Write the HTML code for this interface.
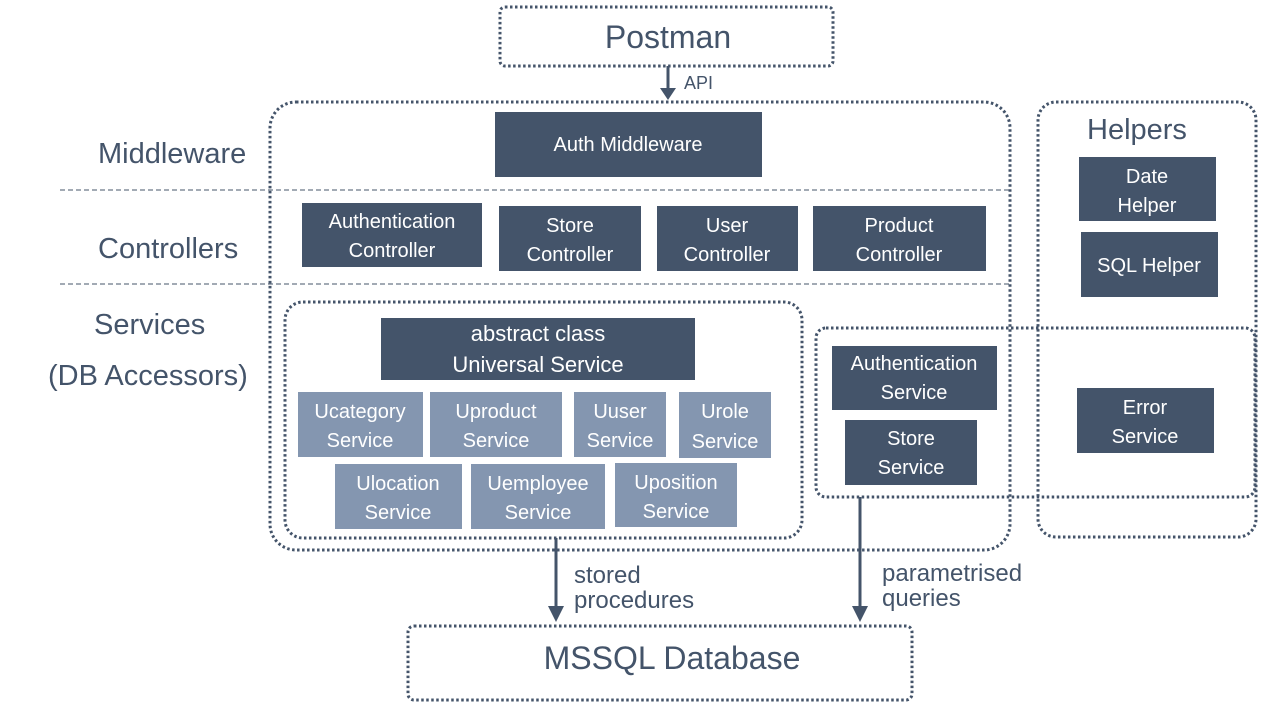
<!DOCTYPE html>
<html><head><style>body{margin:0;background:#fff}svg{display:block}</style></head><body>
<svg width="1280" height="720" xmlns="http://www.w3.org/2000/svg" font-family="'Liberation Sans',sans-serif">
<rect width="1280" height="720" fill="#fff"/>
<g fill="none" stroke="#44546a" stroke-width="3" stroke-dasharray="2.5 2.5">
<rect x="500" y="7" width="333" height="59" rx="5"/>
<rect x="270" y="102" width="740" height="448" rx="26"/>
<rect x="1038" y="102" width="218" height="435" rx="18"/>
<rect x="285" y="302" width="517" height="236" rx="18"/>
<rect x="816" y="328" width="439" height="169" rx="10"/>
<rect x="408" y="626" width="504" height="74" rx="6"/>
</g>
<g stroke="#44546a" stroke-width="1" stroke-dasharray="5 3">
<line x1="60" y1="190" x2="1010" y2="190"/>
<line x1="60" y1="284" x2="1010" y2="284"/>
</g>
<g stroke="#44546a" stroke-width="3" fill="#44546a">
<line x1="668" y1="66" x2="668" y2="92"/>
<line x1="556" y1="538" x2="556" y2="610"/>
<line x1="860" y1="497" x2="860" y2="610"/>
</g>
<g fill="#44546a">
<polygon points="660,88 676,88 668,100"/>
<polygon points="548,606 564,606 556,622"/>
<polygon points="852,606 868,606 860,622"/>
</g>
<g fill="#44546a">
<rect x="495" y="112" width="267" height="65"/>
<rect x="302" y="203" width="180" height="64"/>
<rect x="499" y="206" width="142" height="65"/>
<rect x="657" y="206" width="141" height="65"/>
<rect x="813" y="206" width="173" height="65"/>
<rect x="381" y="318" width="314" height="62"/>
<rect x="832" y="346" width="165" height="64"/>
<rect x="845" y="420" width="132" height="65"/>
<rect x="1077" y="388" width="137" height="65"/>
<rect x="1079" y="157" width="137" height="64"/>
<rect x="1081" y="232" width="137" height="65"/>
</g>
<g fill="#8496b0">
<rect x="298" y="392" width="125" height="65"/>
<rect x="430" y="392" width="132" height="65"/>
<rect x="574" y="392" width="92" height="65"/>
<rect x="679" y="392" width="92" height="66"/>
<rect x="335" y="464" width="127" height="65"/>
<rect x="471" y="464" width="134" height="65"/>
<rect x="615" y="463" width="122" height="64"/>
</g>
<g fill="#fff" font-size="20" text-anchor="middle">
<text x="628" y="151">Auth Middleware</text>
<text x="392" y="228">Authentication</text><text x="392" y="257">Controller</text>
<text x="570" y="232">Store</text><text x="570" y="261">Controller</text>
<text x="727" y="232">User</text><text x="727" y="261">Controller</text>
<text x="899" y="232">Product</text><text x="899" y="261">Controller</text>
<text x="538" y="341" font-size="22">abstract class</text><text x="538" y="372" font-size="22">Universal Service</text>
<text x="914" y="370">Authentication</text><text x="914" y="399">Service</text>
<text x="911" y="445">Store</text><text x="911" y="474">Service</text>
<text x="1145" y="414">Error</text><text x="1145" y="443">Service</text>
<text x="1147" y="183">Date</text><text x="1147" y="212">Helper</text>
<text x="1149" y="272">SQL Helper</text>
<text x="360" y="418">Ucategory</text><text x="360" y="447">Service</text>
<text x="496" y="418">Uproduct</text><text x="496" y="447">Service</text>
<text x="620" y="418">Uuser</text><text x="620" y="447">Service</text>
<text x="725" y="418">Urole</text><text x="725" y="448">Service</text>
<text x="398" y="490">Ulocation</text><text x="398" y="519">Service</text>
<text x="538" y="490">Uemployee</text><text x="538" y="519">Service</text>
<text x="676" y="489">Uposition</text><text x="676" y="518">Service</text>
</g>
<g fill="#44546a">
<text x="668" y="48" font-size="32" text-anchor="middle">Postman</text>
<text x="672" y="669" font-size="32" text-anchor="middle">MSSQL Database</text>
<text x="684" y="89" font-size="18">API</text>
<text x="98" y="163" font-size="29">Middleware</text>
<text x="98" y="258" font-size="29">Controllers</text>
<text x="94" y="334" font-size="29">Services</text>
<text x="48" y="385" font-size="29">(DB Accessors)</text>
<text x="1087" y="139" font-size="29">Helpers</text>
<text x="574" y="583" font-size="24">stored</text>
<text x="574" y="608" font-size="24">procedures</text>
<text x="882" y="581" font-size="24">parametrised</text>
<text x="882" y="606" font-size="24">queries</text>
</g>
</svg>
</body></html>
